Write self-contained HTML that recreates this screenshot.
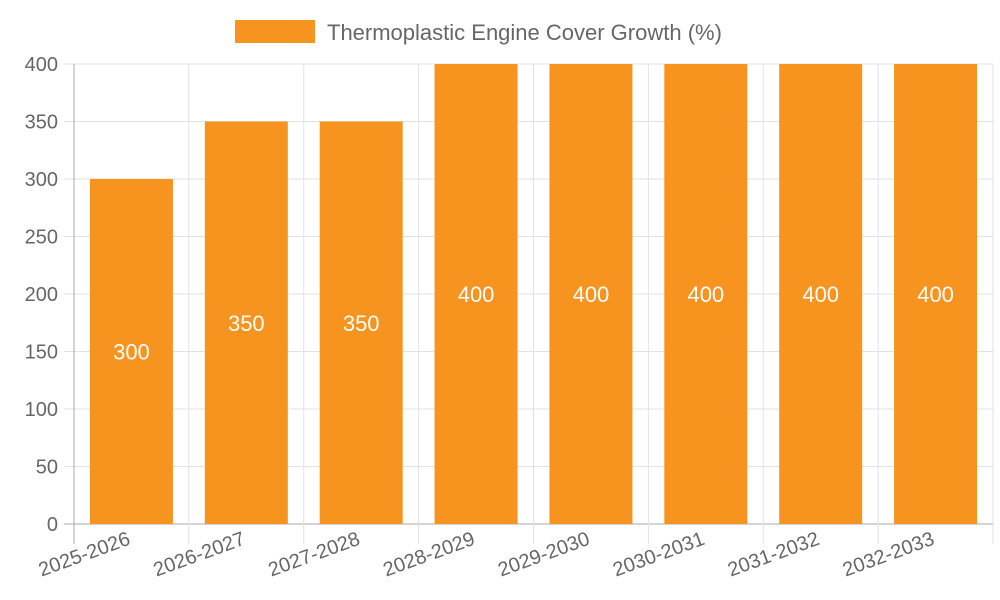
<!DOCTYPE html>
<html><head><meta charset="utf-8"><style>body{margin:0;background:#fff}svg{display:block;font-family:"Liberation Sans",sans-serif}</style></head>
<body>
<svg id="c" width="1000" height="600"></svg>
<script>
const categories=["2025-2026","2026-2027","2027-2028","2028-2029","2029-2030","2030-2031","2031-2032","2032-2033"];
const values=[300,350,350,400,400,400,400,400];
const yTicks=[0,50,100,150,200,250,300,350,400];
const seriesName="Thermoplastic Engine Cover Growth (%)";
const svg=document.getElementById('c');const NS='http://www.w3.org/2000/svg';
const L=74,R=993,T=64,B=524,yMax=400;
const y=v=>B-(v/yMax)*(B-T);
const bw=(R-L)/categories.length;
const xc=i=>L+bw*(i+0.5);
function mk(t,a,p){const e=document.createElementNS(NS,t);for(const k in a)e.setAttribute(k,a[k]);(p||svg).appendChild(e);return e;}
let e;
yTicks.forEach(t=>{
 e=mk('line',{x1:L-10,x2:R,y1:y(t),y2:y(t),stroke:t===0?'#aaa':'#e2e2e2','stroke-width':1});
 
 e=mk('text',{x:L-16,y:y(t)+7,'text-anchor':'end','font-size':20,fill:'#666'});e.textContent=t;
 
});
for(let i=0;i<=categories.length;i++){
 const x=L+bw*i;
 e=mk('line',{x1:x,x2:x,y1:T,y2:B+20,stroke:i===0?'#aaa':'#e2e2e2','stroke-width':1});
 
}
categories.forEach((c,i)=>{
 const v=values[i],x=xc(i),w=83;
 e=mk('rect',{x:x-w/2,y:y(v),width:w,height:B-y(v),fill:'#f7941f'});
 
 e=mk('text',{x:x,y:(y(v)+B)/2+8,'text-anchor':'middle','font-size':22,fill:'#fff'});e.textContent=v;
 
 e=mk('text',{x:x,y:544,'text-anchor':'end','font-size':20,fill:'#666',transform:`rotate(-20 ${x} 544)`});e.textContent=c;
 
});
e=mk('line',{x1:L,x2:L,y1:T,y2:B+20,stroke:'#aaa'});
const g=mk('g',{});
mk('rect',{x:235,y:20,width:80,height:23,fill:'#f7941f'},g);
e=mk('text',{x:327,y:40,'font-size':22,fill:'#666'},g);e.textContent=seriesName;

</script>
</body></html>
